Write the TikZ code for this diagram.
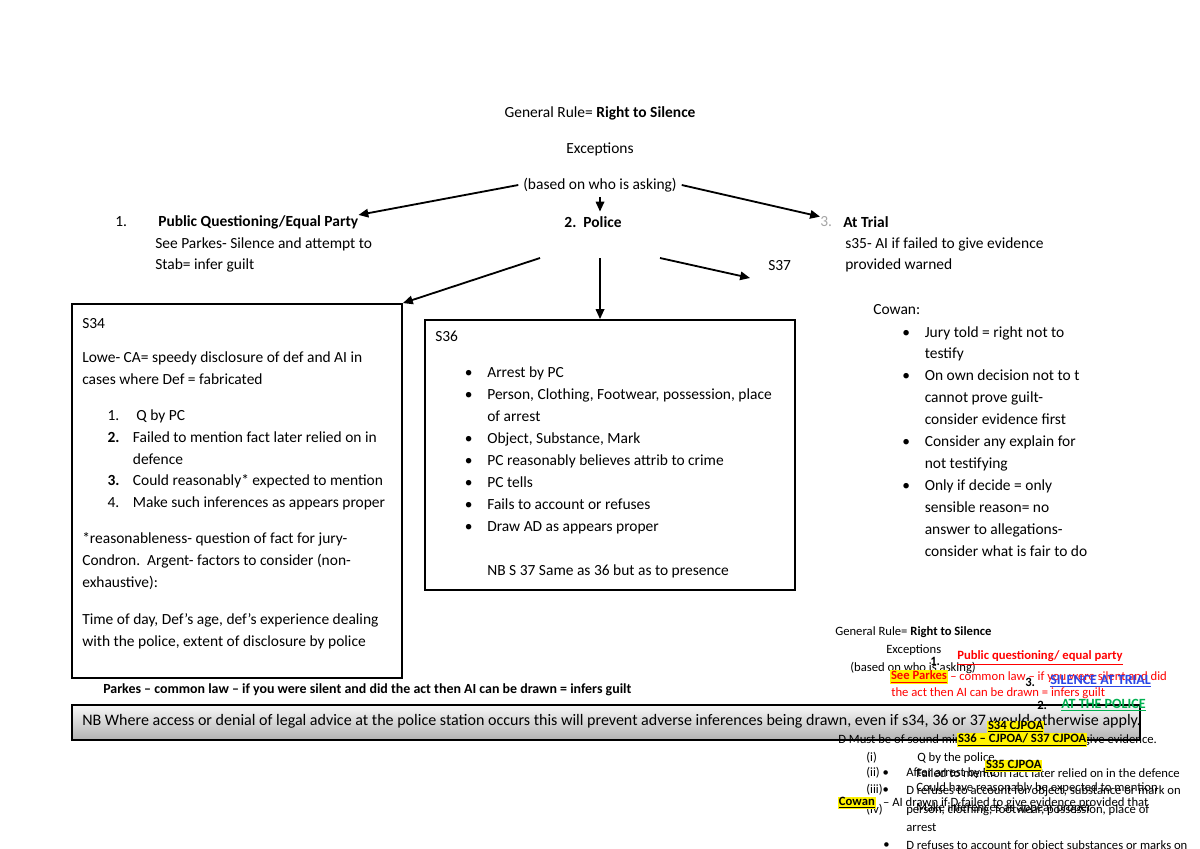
\documentclass[tikz,border=0pt]{standalone}
\usepackage{fontspec}
\setmainfont{Carlito}
\usepackage{xcolor}
\usetikzlibrary{arrows.meta,calc,fit,positioning}
\definecolor{wdred}{RGB}{255,0,0}
\definecolor{wdblue}{RGB}{40,70,230}
\definecolor{wdgreen}{RGB}{0,176,80}
\newcommand{\bl}{\makebox[16pt][l]{\textbullet}}
\newcommand{\ind}{\hspace*{16pt}}
\newcommand{\nm}[1]{\hspace*{18pt}\makebox[18pt][l]{#1}}

\begin{document}
\begin{tikzpicture}[x=0.025cm, y=-0.025cm,
  font=\fontsize{11}{15.6}\selectfont,
  txt/.style={anchor=north west, align=left, inner sep=0pt},
  lbl/.style={anchor=west, inner sep=0pt},
  box/.style={draw, line width=1.3pt, inner sep=0pt},
  arr/.style={-{Triangle[length=7pt,width=6pt]}, line width=1.3pt},
  sm/.style={anchor=west, inner sep=0pt, font=\fontsize{9}{12}\selectfont},
  hl/.style={sm, fill=yellow, inner sep=0.5pt},
]
\useasboundingbox[fill=white] (0,0) rectangle (1200,848);

% heading
\node (rule) at (600,113) {General Rule= \textbf{Right to Silence}};
\node (exc) at (600,149) {Exceptions};
\node (based) at (600,185) {(based on who is asking)};

% the three branches
\node[lbl] (n1) at (115,222) {1.};
\node[lbl] (pq) at (158,222) {\textbf{Public Questioning/Equal Party}};
\node[txt] (pqtxt) at (155,237) {See Parkes- Silence and attempt to\\Stab= infer guilt};
\node (police) at (593,222) {\textbf{2.\ \ Police}};
\node[lbl, text=gray!70] (n3) at (820,222) {3.};
\node[lbl] (trial) at (843,222) {\textbf{At Trial}};
\node[txt] (s35) at (845,237) {s35- AI if failed to give evidence\\provided warned};
\node[lbl] (s37) at (768,266) {S37};

\draw[arr] (based.west) -- (pq.north east);
\draw[arr] (based.south) -- (based.south |- police.north);
\draw[arr] (based.east) -- (n3.north west);

% police arrows
\coordinate (p1) at (540,258);
\coordinate (p2) at (600,258);
\coordinate (p3) at (660,258);
\coordinate (p3e) at (750,278);

% S34
\node[box, fit={(72,304) (402,678)}] (s34) {};
\node[txt] (s34txt) at (82,318) {S34\\[8.5pt]
  Lowe- CA= speedy disclosure of def and AI in\\
  cases where Def = fabricated\\[10pt]
  \nm{1.}\ Q by PC\\
  \nm{\textbf{2.}}Failed to mention fact later relied on in\\
  \nm{}defence\\
  \nm{\textbf{3.}}Could reasonably* expected to mention\\
  \nm{4.}Make such inferences as appears proper\\[10pt]
  *reasonableness- question of fact for jury-\\
  Condron.\ \ Argent- factors to consider (non-\\
  exhaustive):\\[10.5pt]
  Time of day, Def’s age, def’s experience dealing\\
  with the police, extent of disclosure by police};

% S36
\node[box, fit={(425,320) (795,590)}] (s36) {};
\node[txt] (s36txt) at (435,331) {S36\\[10pt]
  \hspace*{21pt}\bl Arrest by PC\\
  \hspace*{21pt}\bl Person, Clothing, Footwear, possession, place\\
  \hspace*{21pt}\ind of arrest\\
  \hspace*{21pt}\bl Object, Substance, Mark\\
  \hspace*{21pt}\bl PC reasonably believes attrib to crime\\
  \hspace*{21pt}\bl PC tells\\
  \hspace*{21pt}\bl Fails to account or refuses\\
  \hspace*{21pt}\bl Draw AD as appears proper\\[15.6pt]
  \hspace*{21pt}\ind NB S 37 Same as 36 but as to presence};

\draw[arr] (p1) -- (s34.north east);
\draw[arr] (p2) -- (p2 |- s36.north);
\draw[arr] (p3) -- (p3e);

% at trial
\node[txt] (cowan) at (873,304) {Cowan:};
\node[txt] (cowanlist) at (902,326) {\bl Jury told = right not to\\
  \ind testify\\
  \bl On own decision not to t\\
  \ind cannot prove guilt-\\
  \ind consider evidence first\\
  \bl Consider any explain for\\
  \ind not testifying\\
  \bl Only if decide = only\\
  \ind sensible reason= no\\
  \ind answer to allegations-\\
  \ind consider what is fair to do};

% bottom
\node[lbl, font=\fontsize{9.9}{12}\selectfont] (parkes) at (103,690) {\textbf{Parkes – common law – if you were silent and did the act then AI can be drawn = infers guilt}};
\node[box, fit={(72,705) (1140,740)}, top color=gray!6, bottom color=gray!60] (nb) {};
\node[lbl, font=\fontsize{11.4}{14}\selectfont] (nbtxt) at (82,721) {NB Where access or denial of legal advice at the police station occurs this will prevent adverse inferences being drawn, even if s34, 36 or 37 would otherwise apply.};

% overlapping copy at the lower right
\node[sm] (r1) at (835,632) {General Rule= \textbf{Right to Silence}};
\node[sm] (r2) at (886,650) {Exceptions};
\node[sm] (r3) at (850,668) {(based on who is asking)};
\node[sm] (r4) at (930,661) {\textbf{1.}};
\node[sm, text=wdred] (r5) at (957,658) {\underline{\textbf{Public questioning/ equal party}}};
\node[sm, text=wdred] (r6) at (950,677) {– common law – if you were silent and did};
\node[sm] (r7) at (1025,682) {\textbf{3.}};
\node[sm, text=wdblue, font=\fontsize{10}{12}\selectfont] (r8) at (1050,681) {\underline{\textbf{SILENCE AT TRIAL}}};
\node[hl, text=wdred] (r9) at (890,677) {\underline{\textbf{See Parkes}}};
\node[sm, text=wdred] (r10) at (891,693) {the act then AI can be drawn = infers guilt};
\node[sm] (r11) at (1037,705) {\textbf{2.}};
\node[sm, text=wdgreen, font=\fontsize{10}{12}\selectfont] (r12) at (1061,705) {\underline{\textbf{AT THE POLICE}}};
\node[sm] (r13) at (838,740) {D Must be of sound mind and physically able to give evidence.};
\node[hl] (r14) at (987,727) {\underline{\textbf{S34 CJPOA}}};
\node[hl] (r15) at (957,740) {\underline{\textbf{S36 – CJPOA/ S37 CJPOA}}};
\node[sm] (r16) at (866,758) {(i)};
\node[sm] (r17) at (917,758) {Q by the police};
\node[sm] (r18) at (866,773) {(ii)\ \textbullet};
\node[sm] (r19) at (906,773) {After arrest by PC};
\node[sm] (r20) at (916,773) {Failed to mention fact later relied on in the defence};
\node[hl] (r21) at (985,766) {\underline{\textbf{S35 CJPOA}}};
\node[sm] (r22) at (866,790) {(iii)\textbullet};
\node[sm] (r23) at (906,791) {D refuses to account for object, substance or mark on};
\node[sm] (r24) at (916,788) {Could have reasonably be expected to mention};
\node[sm] (r25) at (866,810) {(iv)};
\node[sm] (r26) at (906,810) {person, clothing, footwear, possession, place of};
\node[sm] (r27) at (916,808) {Make inferences as appear proper};
\node[hl] (r28) at (838,803) {\underline{\textbf{Cowan}}};
\node[sm] (r29) at (880,803) {\ – AI drawn if D failed to give evidence provided that};
\node[sm] (r30) at (906,828) {arrest};
\node[sm] (r31) at (883,846) {\textbullet};
\node[sm] (r32) at (906,846) {D refuses to account for object substances or marks on};
\end{tikzpicture}
\end{document}
